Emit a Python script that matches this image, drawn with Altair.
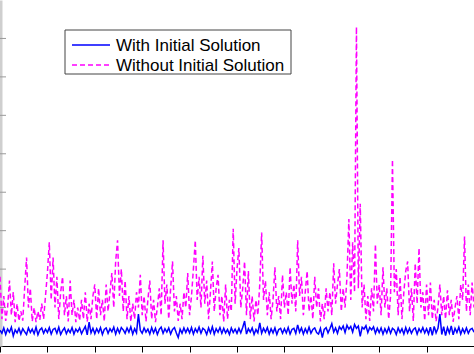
import altair as alt
import pandas as pd

series_names = ["With Initial Solution", "Without Initial Solution"]
series_colors = ["#0000ff", "#ff00ff"]
series_dashes = [[1, 0], [5, 3]]

x_step = 0.04
xtick_vals = [0, 1, 2, 3, 4, 5, 6, 7, 8, 9, 10]
ytick_vals = [1, 2, 3, 4, 5, 6, 7, 8]

with_vals = [
    0.41, 0.33, 0.47, 0.30, 0.44, 0.36, 0.49, 0.26, 0.42, 0.34, 0.46, 0.31, 0.45, 0.37, 0.30, 0.47, 0.35, 0.44, 0.32, 0.49, 0.29, 0.42, 0.47, 0.33, 0.44,
    0.35, 0.48, 0.31, 0.43, 0.46, 0.33, 0.49, 0.30, 0.40, 0.47, 0.32, 0.43, 0.35, 0.48, 0.31, 0.44, 0.37, 0.47, 0.32, 0.42, 0.51, 0.29, 0.62, 0.34, 0.46,
    0.32, 0.45, 0.35, 0.48, 0.30, 0.43, 0.47, 0.33, 0.45, 0.37, 0.49, 0.31, 0.46, 0.34, 0.48, 0.42, 0.33, 0.47, 0.36, 0.50, 0.31, 0.45, 0.34, 0.83, 0.41,
    0.33, 0.47, 0.36, 0.44, 0.31, 0.48, 0.34, 0.46, 0.30, 0.43, 0.49, 0.33, 0.45, 0.36, 0.47, 0.31, 0.43, 0.48, 0.34, 0.22, 0.44, 0.33, 0.47, 0.35, 0.46,
    0.34, 0.48, 0.31, 0.45, 0.36, 0.49, 0.33, 0.46, 0.42, 0.30, 0.47, 0.34, 0.50, 0.31, 0.45, 0.36, 0.48, 0.33, 0.46, 0.34, 0.43, 0.30, 0.47, 0.35, 0.44,
    0.33, 0.46, 0.34, 0.48, 0.65, 0.31, 0.45, 0.36, 0.47, 0.30, 0.43, 0.34, 0.60, 0.33, 0.46, 0.36, 0.48, 0.31, 0.45, 0.34, 0.47, 0.30, 0.43, 0.46, 0.33,
    0.45, 0.34, 0.48, 0.31, 0.43, 0.46, 0.33, 0.55, 0.36, 0.47, 0.31, 0.45, 0.34, 0.49, 0.33, 0.43, 0.47, 0.35, 0.31, 0.46, 0.22, 0.43, 0.48, 0.34, 0.45,
    0.58, 0.36, 0.47, 0.33, 0.50, 0.43, 0.52, 0.35, 0.54, 0.44, 0.51, 0.36, 0.56, 0.46, 0.52, 0.25, 0.49, 0.44, 0.53, 0.35, 0.48, 0.42, 0.50, 0.33, 0.46,
    0.35, 0.47, 0.31, 0.45, 0.34, 0.48, 0.33, 0.46, 0.42, 0.30, 0.47, 0.35, 0.45, 0.31, 0.48, 0.34, 0.46, 0.33, 0.43, 0.47, 0.31, 0.45, 0.36, 0.48, 0.34,
    0.45, 0.31, 0.49, 0.28, 0.51, 0.34, 0.46, 0.83, 0.30, 0.50, 0.27, 0.48, 0.34, 0.52, 0.29, 0.46, 0.35, 0.49, 0.31, 0.45, 0.34, 0.47, 0.33, 0.43, 0.46, 0.36,
]

without_vals = [
    1.8, 0.7, 1.3, 0.65, 1.0, 1.7, 0.8, 1.4, 0.62, 1.1, 0.65, 0.9, 0.66, 1.5, 2.3, 1.0, 1.5, 0.64, 1.0, 0.62, 0.9, 0.68, 1.1, 0.7, 1.3,
    1.9, 2.7, 1.2, 2.3, 1.0, 1.8, 0.7, 1.4, 1.8, 0.8, 1.3, 0.64, 1.7, 0.8, 1.2, 0.62, 1.0, 0.66, 1.2, 0.7, 1.4, 0.63, 1.1, 0.7, 1.3,
    1.6, 0.7, 1.5, 0.8, 1.2, 0.64, 1.6, 0.9, 1.4, 1.9, 1.0, 2.2, 2.75, 1.3, 2.0, 0.9, 1.7, 0.7, 1.3, 0.63, 1.1, 0.7, 1.4, 1.0, 1.85,
    0.8, 1.3, 0.64, 1.2, 1.7, 0.7, 1.2, 0.62, 1.0, 1.5, 0.8, 2.75, 1.1, 1.6, 0.7, 1.5, 2.2, 0.9, 1.3, 0.65, 1.1, 0.7, 1.4, 1.0, 1.9,
    0.8, 1.3, 2.0, 2.75, 1.2, 1.8, 1.0, 2.35, 1.1, 1.7, 0.7, 1.4, 2.2, 0.9, 1.5, 1.85, 0.8, 1.3, 0.63, 1.6, 0.7, 1.2, 0.9, 3.05, 1.1,
    2.0, 2.55, 1.0, 1.5, 2.2, 0.8, 1.95, 0.7, 1.3, 0.64, 1.2, 0.8, 1.6, 2.95, 1.2, 1.7, 0.8, 1.4, 0.7, 1.2, 2.05, 0.9, 1.3, 0.7, 1.85,
    1.0, 1.4, 0.8, 2.05, 1.1, 1.6, 0.9, 2.75, 1.3, 1.8, 0.8, 1.4, 1.95, 0.9, 1.3, 0.7, 1.8, 1.0, 1.5, 0.64, 1.1, 0.7, 1.5, 0.9, 1.4,
    0.8, 2.15, 1.1, 1.6, 2.0, 0.9, 1.5, 1.0, 1.8, 3.3, 1.2, 2.7, 1.4, 8.3, 1.5, 3.7, 1.0, 1.6, 0.7, 1.3, 0.65, 1.5, 0.9, 2.65, 1.1,
    1.6, 0.8, 2.05, 1.0, 1.5, 0.7, 1.3, 4.85, 1.4, 2.0, 0.8, 1.8, 0.7, 1.4, 1.95, 2.2, 0.9, 1.5, 0.65, 2.15, 1.1, 2.55, 1.0, 1.4, 0.66,
    1.6, 0.8, 1.65, 0.7, 1.2, 0.64, 1.0, 1.6, 0.8, 1.3, 0.7, 1.45, 0.8, 1.2, 0.63, 1.0, 1.3, 0.7, 1.6, 1.2, 2.85, 0.9, 1.6, 0.8, 1.65, 1.0,
]

rows = []
for name, vals in zip(series_names, [with_vals, without_vals]):
    for i, v in enumerate(vals):
        rows.append({"x": i * x_step, "y": v, "series": name})
df = pd.DataFrame(rows)
ticks_df = pd.DataFrame({"v": ytick_vals})
legend_df = pd.DataFrame({"series": series_names})

x_scale = alt.Scale(domain=[0, 10], nice=False, zero=False)
y_scale = alt.Scale(domain=[0, 9], nice=False, zero=False)
color_scale = alt.Scale(domain=series_names, range=series_colors)
dash_scale = alt.Scale(domain=series_names, range=series_dashes)

lines = alt.Chart(df).mark_line(strokeWidth=1.5, clip=True).encode(
    x=alt.X("x:Q", scale=x_scale,
            axis=alt.Axis(values=xtick_vals, labels=False, title=None, grid=False,
                          tickSize=6, tickColor="#000000", domainColor="#000000",
                          tickWidth=1, domainWidth=1)),
    y=alt.Y("y:Q", scale=y_scale,
            axis=alt.Axis(labels=False, ticks=False, title=None, grid=False,
                          domainColor="#cfcfcf", domainWidth=4)),
    color=alt.Color("series:N", scale=color_scale, legend=None),
    strokeDash=alt.StrokeDash("series:N", scale=dash_scale, legend=None),
)

yticks = alt.Chart(ticks_df).mark_rule(color="#9a9a9a", strokeWidth=1).encode(
    y=alt.Y("v:Q", scale=y_scale),
    x=alt.value(0),
    x2=alt.value(6),
)

# legend box (manual, to match the boxed legend of the original)
legend_box = alt.Chart(legend_df).transform_filter(
    alt.datum.series == series_names[0]
).mark_rect(fill="white", stroke="#444444", strokeWidth=1).encode(
    x=alt.value(65), x2=alt.value(291), y=alt.value(30), y2=alt.value(74),
)

legend_layers = [legend_box]
row_y = [45, 65]
for name, ry in zip(series_names, row_y):
    sym = alt.Chart(legend_df).transform_filter(
        alt.datum.series == name
    ).mark_rule(strokeWidth=1.5).encode(
        x=alt.value(72), x2=alt.value(110), y=alt.value(ry),
        color=alt.Color("series:N", scale=color_scale, legend=None),
        strokeDash=alt.StrokeDash("series:N", scale=dash_scale, legend=None),
    )
    txt = alt.Chart(legend_df).transform_filter(
        alt.datum.series == name
    ).mark_text(align="left", baseline="middle", font="Liberation Sans",
                fontSize=17, color="black").encode(
        x=alt.value(116), y=alt.value(ry + 1), text="series:N",
    )
    legend_layers += [sym, txt]

chart = alt.layer(lines, yticks, *legend_layers).properties(
    width=474,
    height=346,
    autosize=alt.AutoSizeParams(type="none"),
    padding={"left": 0, "top": 0, "right": 0, "bottom": 8},
    background="white",
).configure_view(stroke=None)

chart.save("out.html", embed_options={"renderer": "svg", "actions": False})
